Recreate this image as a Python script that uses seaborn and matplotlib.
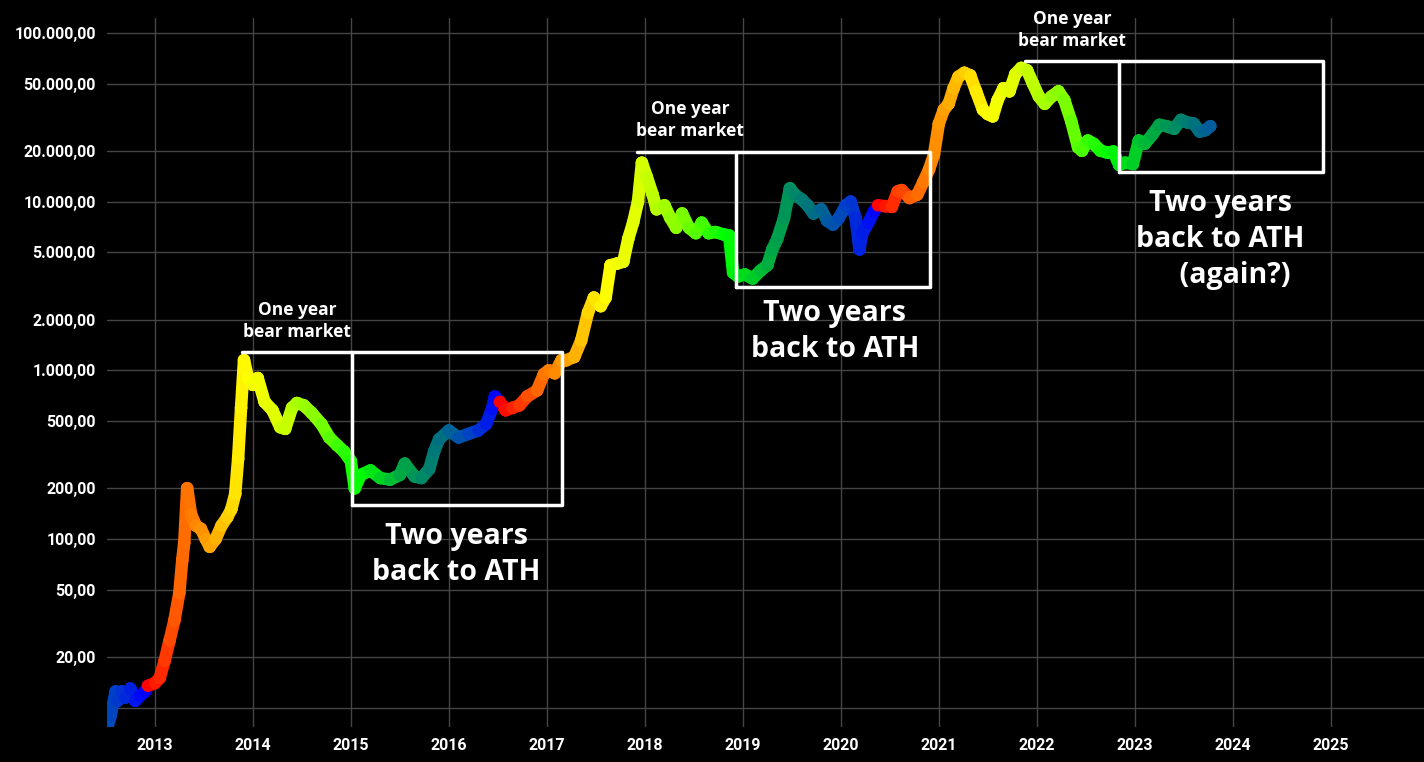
import numpy as np
import pandas as pd
import matplotlib
matplotlib.use("Agg")
import matplotlib.pyplot as plt
import seaborn as sns
from matplotlib.colors import LinearSegmentedColormap
from matplotlib.ticker import FixedLocator, FuncFormatter

years = [2012.52, 2012.55, 2012.6, 2012.62, 2012.66, 2012.7, 2012.75, 2012.8, 2012.85, 2012.9, 2012.93,
         2013.0, 2013.05, 2013.1, 2013.15, 2013.2, 2013.25, 2013.28, 2013.3, 2013.33, 2013.37, 2013.42,
         2013.47, 2013.52, 2013.56, 2013.62, 2013.68, 2013.74, 2013.78, 2013.82, 2013.85, 2013.88, 2013.91,
         2013.95, 2014.0, 2014.05, 2014.12, 2014.2, 2014.28, 2014.33, 2014.4, 2014.45, 2014.52, 2014.6,
         2014.7, 2014.78, 2014.86, 2014.93, 2015.0, 2015.04, 2015.1, 2015.2, 2015.3, 2015.4, 2015.5,
         2015.55, 2015.65, 2015.72, 2015.8, 2015.85, 2015.9, 2016.0, 2016.1, 2016.2, 2016.3, 2016.38,
         2016.44, 2016.47, 2016.52, 2016.58, 2016.65, 2016.72, 2016.8, 2016.9, 2016.97, 2017.02, 2017.08,
         2017.15, 2017.2, 2017.28, 2017.35, 2017.42, 2017.48, 2017.55, 2017.6, 2017.65, 2017.72, 2017.78,
         2017.83, 2017.88, 2017.93, 2017.97, 2018.02, 2018.08, 2018.12, 2018.2, 2018.26, 2018.32, 2018.38,
         2018.45, 2018.52, 2018.58, 2018.65, 2018.72, 2018.8, 2018.86, 2018.9, 2018.95, 2019.02, 2019.1,
         2019.18, 2019.25, 2019.3, 2019.35, 2019.42, 2019.48, 2019.53, 2019.6, 2019.66, 2019.72, 2019.8,
         2019.86, 2019.92, 2019.98, 2020.05, 2020.1, 2020.15, 2020.19, 2020.22, 2020.28, 2020.34, 2020.38,
         2020.45, 2020.52, 2020.58, 2020.62, 2020.7, 2020.78, 2020.84, 2020.9, 2020.95, 2021.0, 2021.05,
         2021.1, 2021.15, 2021.2, 2021.26, 2021.32, 2021.38, 2021.45, 2021.5, 2021.55, 2021.6, 2021.66,
         2021.72, 2021.78, 2021.84, 2021.9, 2021.96, 2022.02, 2022.08, 2022.15, 2022.22, 2022.28, 2022.35,
         2022.42, 2022.46, 2022.52, 2022.58, 2022.65, 2022.72, 2022.78, 2022.84, 2022.9, 2022.98, 2023.04,
         2023.1, 2023.18, 2023.25, 2023.32, 2023.4, 2023.47, 2023.53, 2023.6, 2023.66, 2023.72, 2023.77]
prices = [7.8, 9.0, 12.5, 11.0, 12.5, 11.5, 13.0, 11.0, 11.8, 12.5, 13.5,
          14.0, 15.0, 19.0, 25.0, 33.0, 48.0, 75.0, 95.0, 200.0, 140.0, 120.0,
          115.0, 100.0, 90.0, 100.0, 120.0, 135.0, 150.0, 185.0, 300.0, 600.0, 1150.0,
          900.0, 820.0, 900.0, 650.0, 580.0, 460.0, 450.0, 600.0, 640.0, 620.0, 560.0,
          480.0, 400.0, 360.0, 330.0, 290.0, 200.0, 240.0, 255.0, 230.0, 225.0, 240.0,
          280.0, 235.0, 230.0, 260.0, 330.0, 390.0, 440.0, 400.0, 420.0, 440.0, 480.0,
          590.0, 700.0, 650.0, 580.0, 600.0, 620.0, 700.0, 760.0, 950.0, 1000.0, 960.0,
          1150.0, 1150.0, 1200.0, 1500.0, 2200.0, 2700.0, 2400.0, 2700.0, 4200.0, 4300.0, 4400.0,
          6000.0, 7500.0, 10000.0, 17000.0, 14000.0, 11000.0, 9000.0, 9500.0, 8000.0, 7000.0, 8500.0,
          7000.0, 6500.0, 7500.0, 6500.0, 6600.0, 6400.0, 6300.0, 3800.0, 3600.0, 3700.0, 3500.0,
          3900.0, 4200.0, 5200.0, 6000.0, 8000.0, 12000.0, 11000.0, 10300.0, 9500.0, 8500.0, 9000.0,
          7700.0, 7300.0, 8000.0, 9500.0, 10000.0, 8000.0, 5200.0, 6500.0, 7500.0, 8800.0, 9500.0,
          9400.0, 9300.0, 11500.0, 11700.0, 10500.0, 11000.0, 13000.0, 15500.0, 19000.0, 29000.0, 35000.0,
          38000.0, 47000.0, 55000.0, 58000.0, 56000.0, 45000.0, 35000.0, 33000.0, 32000.0, 40000.0, 47000.0,
          45000.0, 57000.0, 62000.0, 60000.0, 50000.0, 42000.0, 38000.0, 42000.0, 45000.0, 40000.0, 30000.0,
          21000.0, 20000.0, 23000.0, 22000.0, 20000.0, 19500.0, 19800.0, 16500.0, 17000.0, 16700.0, 23000.0,
          22000.0, 25000.0, 28500.0, 28000.0, 27000.0, 30500.0, 29500.0, 29000.0, 26000.0, 26500.0, 28000.0]

halvings = [2008.97, 2012.91, 2016.52, 2020.36, 2024.3]
x_ticks = list(range(2013, 2026))
y_ticks = [20, 50, 100, 200, 500, 1000, 2000, 5000, 10000, 20000, 50000, 100000]

def phase(t):
    for a, b in zip(halvings[:-1], halvings[1:]):
        if a <= t < b:
            return (t - a) / (b - a)
    return 0.0

df = pd.DataFrame({"year": years, "price": prices})
df["phase"] = [phase(t) for t in years]

cmap = LinearSegmentedColormap.from_list("cyc", [
    (0.0, "#ff0000"), (0.08, "#ff5a00"), (0.18, "#ffa500"), (0.28, "#ffff00"),
    (0.36, "#e0ff00"), (0.48, "#80ff00"), (0.6, "#00ff00"), (0.72, "#00a844"),
    (0.83, "#007080"), (0.92, "#0040c8"), (1.0, "#0000ff")])

sns.set_theme(style="dark")
plt.rcParams["font.family"] = ["Roboto", "DejaVu Sans"]
fig = plt.figure(figsize=(14.24, 7.62), dpi=100, facecolor="black")
ax = fig.add_axes([0.075, 0.046, 0.925, 0.930])
ax.set_facecolor("black")
ax.set_yscale("log")
ax.set_xlim(2012.51, 2025.95)
ax.set_ylim(7.7, 122000)

tx = np.array(years); py = np.array(prices)
for i in range(len(tx) - 1):
    c = cmap(df["phase"].iloc[i])
    ax.plot(tx[i:i+2], py[i:i+2], color=c, lw=9, solid_capstyle="round", zorder=3)
sns.scatterplot(data=df, x="year", y="price", hue="phase", palette=cmap, hue_norm=(0, 1),
                s=80, edgecolor="none", legend=False, ax=ax, zorder=4)

ax.xaxis.set_major_locator(FixedLocator(x_ticks))
ax.xaxis.set_major_formatter(FuncFormatter(lambda v, p: f"{int(v)}"))
ax.yaxis.set_major_locator(FixedLocator(y_ticks + [10]))
def yfmt(v, p):
    if v < 15:
        return ""
    s = f"{int(round(v)):,}".replace(",", ".")
    return s + ",00"
ax.yaxis.set_major_formatter(FuncFormatter(yfmt))
ax.yaxis.set_minor_locator(FixedLocator([]))
ax.grid(True, color="#454545", lw=1)
ax.tick_params(colors="white", labelsize=11.5, length=0, pad=8)
for lab in ax.get_xticklabels() + ax.get_yticklabels():
    lab.set_fontweight("bold")
for s in ax.spines.values():
    s.set_visible(False)
ax.set_xlabel(""); ax.set_ylabel("")

boxes = [(2015.01, 2017.15, 159, 1280, 2013.89),
         (2018.93, 2020.91, 3100, 19760, 2017.92),
         (2022.84, 2024.92, 15000, 68200, 2021.88)]
for x0, x1, y0, y1, xl in boxes:
    ax.plot([x0, x1, x1, x0, x0], [y0, y0, y1, y1, y0], color="white", lw=2.5, zorder=5)
    ax.plot([xl, x0], [y1, y1], color="white", lw=2.5, zorder=5)

af = ["Open Sans", "DejaVu Sans"]
for x, y in [(2014.45, 1950), (2018.46, 30500), (2022.36, 104000)]:
    ax.text(x, y, "One year\nbear market", color="white", fontsize=12.5, fontweight="bold",
            ha="center", va="center", family=af, linespacing=1.3, zorder=6)
for x, y, s in [(2016.08, 81, "Two years\nback to ATH"),
                (2019.94, 1700, "Two years\nback to ATH"),
                (2023.87, 5960, "Two years\nback to ATH\n    (again?)")]:
    ax.text(x, y, s, color="white", fontsize=20.5, fontweight="bold", ha="center", va="center",
            family=af, linespacing=1.3, zorder=6)

fig.savefig("out.png", dpi=100, facecolor="black")
